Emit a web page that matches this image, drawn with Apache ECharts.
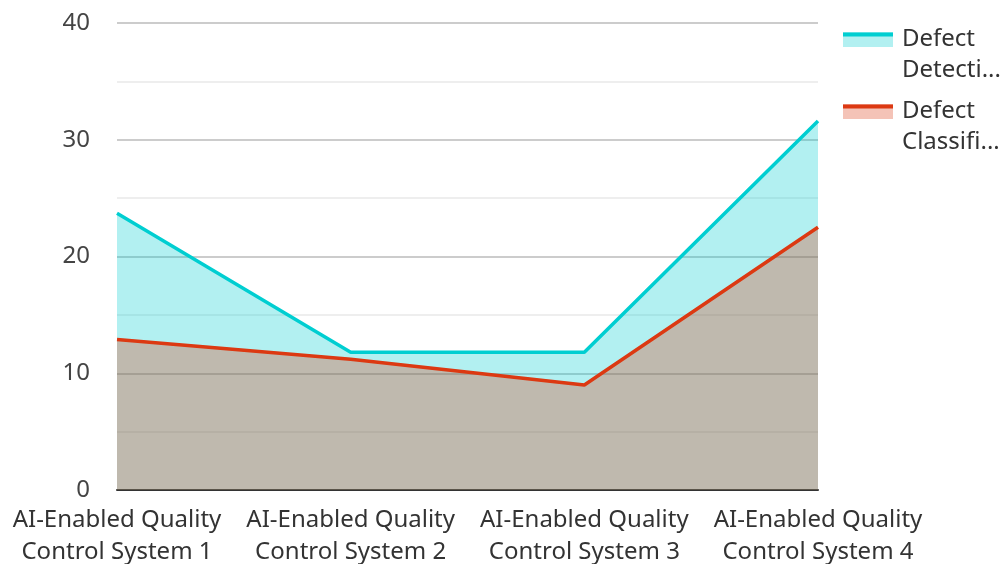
<!DOCTYPE html>
<html>
<head>
<meta charset="utf-8">
<script src="https://cdn.jsdelivr.net/npm/echarts@6/dist/echarts.min.js"></script>
<style>
  html, body { margin: 0; padding: 0; background: #fff; }
  #chart { width: 1005px; height: 564px; }
</style>
</head>
<body>
<div id="chart"></div>
<script>
let chart = echarts.init(document.getElementById('chart'));

// categories
let systems = [
    'AI-Enabled Quality\nControl System 1',
    'AI-Enabled Quality\nControl System 2',
    'AI-Enabled Quality\nControl System 3',
    'AI-Enabled Quality\nControl System 4'
];

// values (%)
let detection_rate = [23.7, 11.8, 11.8, 31.6];
let classification_acc = [12.9, 11.2, 9.0, 22.5];

let series_names = ['Defect Detection Rate (%)', 'Defect Classification Accuracy (%)'];
let colors = ['#00CED1', '#DC3912'];
let area_colors = ['rgba(0,206,209,0.3)', 'rgba(220,57,18,0.3)'];

let font = 'Noto Sans';

// legend name: first word, then the rest cut to fit.
// empty first line so the icon sits next to the first word
function legend_name(name) {
    let i = name.indexOf(' ');
    return '\n' + name.slice(0, i) + '\n' +
        echarts.format.truncateText(name.slice(i + 1), 108, '24px "' + font + '"', '...');
}

let legend_base = {
    orient: 'vertical',
    left: 843,
    padding: 0,
    itemWidth: 50,
    itemGap: -21,
    icon: 'rect',
    formatter: legend_name,
    selectedMode: false
};

let option = {
    textStyle: { fontFamily: font },
    color: colors,
    grid: {
        left: 117,
        right: 187,
        top: 23,
        bottom: 74,
        outerBoundsMode: 'none'
    },
    legend: [
        // area swatch + text
        Object.assign({}, legend_base, {
            top: -7,
            itemHeight: 15,
            textStyle: { fontSize: 24, color: '#333', lineHeight: 31, padding: [0, 0, 0, 4] },
            data: series_names.map((n, i) => ({ name: n, itemStyle: { color: area_colors[i] } }))
        }),
        // line on top of the swatch
        Object.assign({}, legend_base, {
            top: -12,
            itemHeight: 4,
            textStyle: { fontSize: 24, color: 'transparent', lineHeight: 31, padding: [0, 0, 0, 4] },
            data: series_names.map((n, i) => ({ name: n, itemStyle: { color: colors[i] } }))
        })
    ],
    xAxis: {
        type: 'category',
        boundaryGap: false,
        data: systems,
        axisLine: { lineStyle: { color: '#333', width: 2 } },
        axisTick: { show: false },
        axisLabel: {
            fontSize: 24,
            color: '#333',
            lineHeight: 32,
            margin: 14,
            interval: 0
        }
    },
    yAxis: {
        type: 'value',
        min: 0,
        max: 40,
        interval: 10,
        axisLine: { show: false },
        axisTick: { show: false },
        axisLabel: { fontSize: 24, color: '#444', margin: 27 },
        splitLine: { lineStyle: { color: '#ccc', width: 2 } },
        minorTick: { show: false, splitNumber: 2 },
        minorSplitLine: { show: true, lineStyle: { color: '#eee', width: 2 } }
    },
    series: [
        {
            name: series_names[0],
            type: 'line',
            data: detection_rate,
            symbol: 'none',
            lineStyle: { width: 3.5 },
            areaStyle: { opacity: 0.3 }
        },
        {
            name: series_names[1],
            type: 'line',
            data: classification_acc,
            symbol: 'none',
            lineStyle: { width: 3.5 },
            areaStyle: { opacity: 0.3 }
        }
    ]
};

chart.setOption(option);
</script>
</body>
</html>
